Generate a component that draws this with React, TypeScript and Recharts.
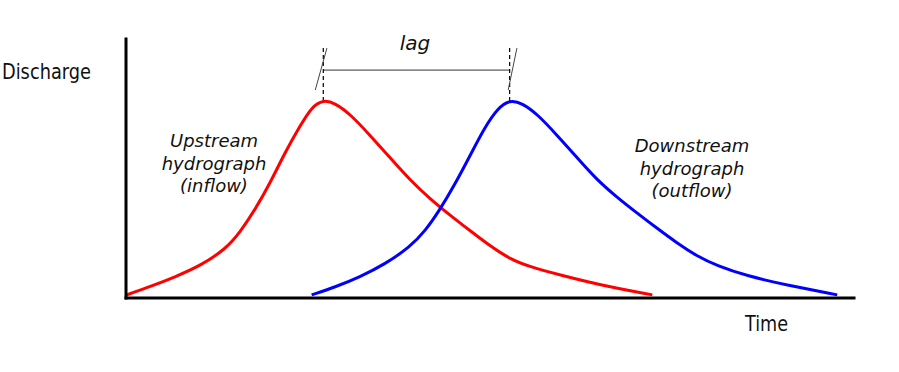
import React from 'react';
import { LineChart, Line, XAxis, YAxis, ReferenceLine } from 'recharts';

// time / discharge in arbitrary units (0-100 on both axes)
const inflowTime = [0.1, 3.3, 6.7, 10.2, 13.7, 15.7, 17.7, 19.8, 21.8, 23.9, 25.5, 27.1, 28.7, 30.8, 33.5, 36.3, 39.0, 41.8, 44.5, 47.3, 50.0, 52.7, 55.5, 59.6, 65.1, 72.3];
const inflowQ = [1.2, 4.4, 8.1, 12.4, 18.9, 25.5, 34.0, 44.4, 56.0, 66.4, 73.8, 76.5, 75.3, 71.0, 62.9, 54.1, 45.6, 38.2, 32.0, 25.9, 20.1, 15.1, 12.0, 8.9, 5.0, 1.2];

const outflowTime = [25.5, 28.7, 32.1, 35.6, 39.0, 41.1, 43.1, 45.2, 47.3, 49.3, 51.1, 52.7, 54.4, 56.5, 59.2, 62.0, 64.7, 67.4, 70.2, 72.9, 75.7, 78.4, 81.2, 85.3, 90.8, 97.7];
const outflowQ = [1.2, 4.2, 8.1, 13.1, 19.7, 25.9, 34.0, 44.0, 55.2, 66.0, 73.4, 76.5, 75.3, 71.0, 62.9, 54.1, 45.6, 39.0, 32.8, 27.0, 21.2, 16.2, 12.4, 8.5, 5.0, 1.2];

// peaks and the lag marker
const inflowPeak = { t: 27.1, q: 76.1 };
const outflowPeak = { t: 52.7, q: 76.1 };
const lagLevel = 88.0;
const markerTop = 96.9;

const inflow = inflowTime.map((t, i) => ({ t, q: inflowQ[i] }));
const outflow = outflowTime.map((t, i) => ({ t, q: outflowQ[i] }));

const labelFont = '"DejaVu Sans", Verdana, sans-serif';

export default function App() {
  return (
    <div style={{ position: 'absolute', left: 0, top: 0, background: '#fff' }}>
      <LineChart width={899} height={372} margin={{ top: 39, right: 45, left: 0, bottom: 0 }}>
        <XAxis
          type="number"
          dataKey="t"
          domain={[0, 100]}
          height={74}
          tick={false}
          tickLine={false}
          axisLine={{ stroke: '#000', strokeWidth: 3, strokeLinecap: 'square' }}
        />
        <YAxis
          type="number"
          domain={[0, 100]}
          width={126}
          tick={false}
          tickLine={false}
          axisLine={{ stroke: '#000', strokeWidth: 3, strokeLinecap: 'square' }}
        />

        <ReferenceLine
          segment={[{ x: inflowPeak.t, y: lagLevel }, { x: outflowPeak.t, y: lagLevel }]}
          stroke="#333"
          strokeWidth={1}
          ifOverflow="visible"
        />
        <ReferenceLine
          segment={[{ x: inflowPeak.t, y: inflowPeak.q }, { x: inflowPeak.t, y: markerTop }]}
          stroke="#000"
          strokeWidth={1.2}
          strokeDasharray="4 3"
          ifOverflow="visible"
        />
        <ReferenceLine
          segment={[{ x: outflowPeak.t, y: outflowPeak.q }, { x: outflowPeak.t, y: markerTop }]}
          stroke="#000"
          strokeWidth={1.2}
          strokeDasharray="4 3"
          ifOverflow="visible"
        />
        <ReferenceLine
          segment={[{ x: 26.0, y: 80.3 }, { x: 27.6, y: 96.5 }]}
          stroke="#444"
          strokeWidth={1}
          ifOverflow="visible"
        />
        <ReferenceLine
          segment={[{ x: 52.5, y: 80.3 }, { x: 53.7, y: 96.5 }]}
          stroke="#444"
          strokeWidth={1}
          ifOverflow="visible"
        />

        <Line
          data={inflow}
          dataKey="q"
          type="basis"
          stroke="#ff0000"
          strokeWidth={3}
          dot={false}
          isAnimationActive={false}
        />
        <Line
          data={outflow}
          dataKey="q"
          type="basis"
          stroke="#0000ff"
          strokeWidth={3}
          dot={false}
          isAnimationActive={false}
        />

        <g fontFamily={labelFont} fill="#111">
          <text x={2} y={79} fontSize={21} textLength={89} lengthAdjust="spacingAndGlyphs">Discharge</text>
          <text x={745} y={331} fontSize={21} textLength={43} lengthAdjust="spacingAndGlyphs">Time</text>
          <text x={415} y={50} fontSize={20} fontStyle="italic" textAnchor="middle">lag</text>
          <g fontSize={18} fontStyle="italic" textAnchor="middle">
            <text x={214} y={147}>Upstream</text>
            <text x={214} y={170}>hydrograph</text>
            <text x={214} y={192}>(inflow)</text>
            <text x={692} y={152}>Downstream</text>
            <text x={692} y={175}>hydrograph</text>
            <text x={692} y={197}>(outflow)</text>
          </g>
        </g>
      </LineChart>
    </div>
  );
}
